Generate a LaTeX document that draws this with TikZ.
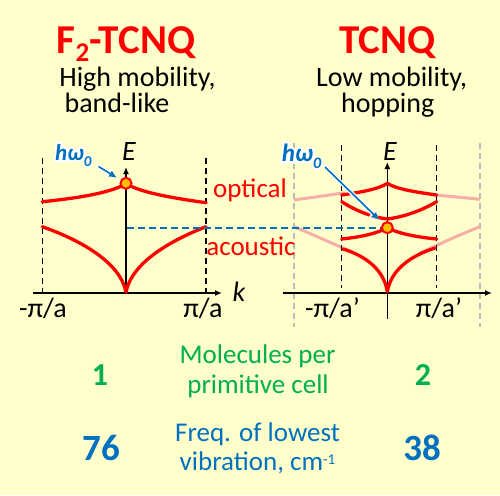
\documentclass[tikz,border=0pt]{standalone}
\usepackage{fontspec}
\setmainfont{Carlito}
% stroked copy of the label face, used as a white halo behind the blue text
\newfontface\halofont{Carlito Bold Italic}[FakeBold=18]
\usetikzlibrary{arrows.meta}

\definecolor{paper}{HTML}{FFFFCC}
\definecolor{bandred}{HTML}{FF0000}
\definecolor{fadedred}{HTML}{F6AFA6}
\definecolor{zonegray}{HTML}{BBBBBB}
\definecolor{hwblue}{HTML}{0070C0}
\definecolor{cellgreen}{HTML}{00B050}
\definecolor{dotfill}{HTML}{FFC000}

\newcommand\fs[1]{\fontsize{#1}{#1}\selectfont}
% blue label with a white halo around the glyphs
\newcommand\glowlabel[3]{%
  \node[hwtext, text=white, font={\halofont\fs{25}}] at #2 {#3};
  \node[hwtext, text=hwblue] (#1) at #2 {#3};}

\begin{document}
\begin{tikzpicture}[x=1pt,y=-1pt,
  txt/.style={inner sep=0pt, anchor=base},
  headline/.style={txt, text=bandred, font=\fs{41}\bfseries},
  desctext/.style={txt, font=\fs{28}},
  branchlabel/.style={txt, text=bandred, font=\fs{27}},
  ticklabel/.style={txt, font=\fs{28}},
  axislabel/.style={txt, font=\fs{28}\itshape},
  kaxis/.style={line width=1.4pt, -{Latex[length=7pt,width=6pt]}},
  zoneline/.style={line width=1.4pt, dash pattern=on 6pt off 4pt},
  ghostzone/.style={zonegray, line width=1.3pt, dash pattern=on 6pt off 4pt},
  branch/.style={bandred, line width=3.3pt, line cap=round, line join=round},
  ghostbranch/.style={fadedred, line width=3pt},
  modedot/.style={circle, fill=dotfill, draw=bandred, line width=2pt, minimum size=11pt, inner sep=0pt},
  phononlevel/.style={hwblue, line width=1.8pt, dash pattern=on 7pt off 4pt},
  hwtext/.style={inner sep=0pt, anchor=base west, font=\fs{25}\bfseries\itshape},
  halo/.style={white, line width=4.2pt, line cap=round, -{Latex[length=10pt,width=10pt]}},
  pointer/.style={hwblue, line width=1.6pt, -{Latex[length=8pt,width=7pt]}},
]
\fill[paper] (0,0) rectangle (500,495);

% ---------- headings ----------
\node[headline] (nameL) at (126,53.5) {F\raisebox{-0.2em}{\fs{27}2}-TCNQ};
\node[headline] (nameR) at (387.5,54) {TCNQ};
\node[desctext] (mobL) at (137.5,86.8) {High mobility,};
\node[desctext] (kindL) at (117,112.3) {band-like};
\node[desctext] (mobR) at (391.7,86.5) {Low mobility,};
\node[desctext] (kindR) at (387.7,112.8) {hopping};

% ---------- left dispersion: one molecule per cell ----------
\draw[zoneline] (42.3,158) -- (42.3,293);
\draw[zoneline] (206,158) -- (206,293);
\draw[kaxis] (33,293) -- (222,293);
\draw[kaxis] (126,293) -- (126,167);
\draw[branch] (42.3,201.7) .. controls (80,198) and (114,192) .. (126,183.3)
              .. controls (138,192) and (172,198) .. (206,202.7);
\draw[branch] (42.3,226.7) .. controls (80,240) and (120,262) .. (126,292)
              .. controls (132,262) and (172,240) .. (206,226.7);

% ---------- right dispersion: two molecules per cell ----------
\draw[ghostzone] (294,143) -- (294,327);
\draw[ghostzone] (480,143) -- (480,327);
\draw[ghostbranch] (294,200) -- (345,192.8);
\draw[ghostbranch] (434,194.8) -- (480,199.3);
\draw[ghostbranch] (294,226.7) .. controls (318,237) .. (352,252);
\draw[ghostbranch] (480,226.7) .. controls (457,236) .. (420,253);
\draw[zoneline] (341.7,145) -- (341.7,288);
\draw[zoneline] (436.7,145) -- (436.7,288);
\draw[kaxis] (283,293) -- (492,293);
\draw[kaxis] (387.3,319) -- (387.3,162);
\draw[branch] (341.7,195) .. controls (362,192) and (379,189) .. (387.3,183.3)
              .. controls (396,189) and (415,192) .. (436.7,195);
\draw[branch] (341.7,201.7) .. controls (356,211) and (372,217) .. (387.3,219)
              .. controls (403,217) and (421,211) .. (436.7,201.7);
\draw[branch] (341.7,239) .. controls (362,237) and (378,233) .. (387.3,227.7)
              .. controls (397,233) and (415,237) .. (436.7,239);
\draw[branch] (343,249) .. controls (366,256) and (384,270) .. (387.3,291.7)
              .. controls (391,270) and (410,256) .. (435,248);

% ---------- lowest vibration level ----------
\coordinate (lvlstart) at (127,227.7);
\coordinate (lvlend) at (382,227.7);
\draw[phononlevel] (lvlstart) -- (lvlend);
\node[modedot] (dotL) at (126,183.3) {};
\node[modedot] (dotR) at (387.3,227.7) {};

% ---------- axis and branch labels ----------
\node[axislabel] (EL) at (129,160) {E};
\node[axislabel] (kL) at (239,301) {k};
\node[axislabel] (ER) at (390,160) {E};
\node[ticklabel] (tlL) at (43,317) {-π/a};
\node[ticklabel] (trL) at (203,317) {π/a};
\node[ticklabel] (tlR) at (332.5,317) {-π/a’};
\node[ticklabel] (trR) at (439,317) {π/a’};
\node[branchlabel] (optlab) at (250,197) {optical};
\node[branchlabel] (acolab) at (251,255) {acoustic};

% ---------- h-omega pointers ----------
\glowlabel{hwL}{(55,160)}{\fs{23}hω\raisebox{-0.28em}{\fs{15}0}}
\glowlabel{hwR}{(281.7,161.5)}{hω\raisebox{-0.28em}{\fs{16}0}}
\coordinate (hwLtail) at (98.5,166.5);
\coordinate (hwRtail) at (325,167);
\draw[halo, shorten >=4pt] (hwLtail) -- (dotL);
\draw[pointer, shorten >=4pt] (hwLtail) -- (dotL);
\draw[halo, shorten >=4.5pt] (hwRtail) -- (dotR);
\draw[pointer, shorten >=4.5pt] (hwRtail) -- (dotR);

% ---------- comparison table ----------
\node[txt, text=cellgreen, font=\fs{32}\bfseries] (cellL) at (100,385) {1};
\node[txt, text=cellgreen, font=\fs{32}\bfseries] (cellR) at (423,385) {2};
\node[txt, text=cellgreen, font=\fs{27}] (cellA) at (257.5,363.3) {Molecules per};
\node[txt, text=cellgreen, font=\fs{27}] (cellB) at (258,393.3) {primitive cell};
\node[txt, text=hwblue, font=\fs{37}\bfseries] (freqL) at (101,460) {76};
\node[txt, text=hwblue, font=\fs{37}\bfseries] (freqR) at (422,460) {38};
\node[txt, text=hwblue, font=\fs{27}] (freqA) at (257.5,441.7) {Freq. of lowest};
\node[txt, text=hwblue, font=\fs{27}] (freqB) at (257.5,470) {vibration, cm\raisebox{6pt}{\fs{15}-1}};
\end{tikzpicture}
\end{document}
